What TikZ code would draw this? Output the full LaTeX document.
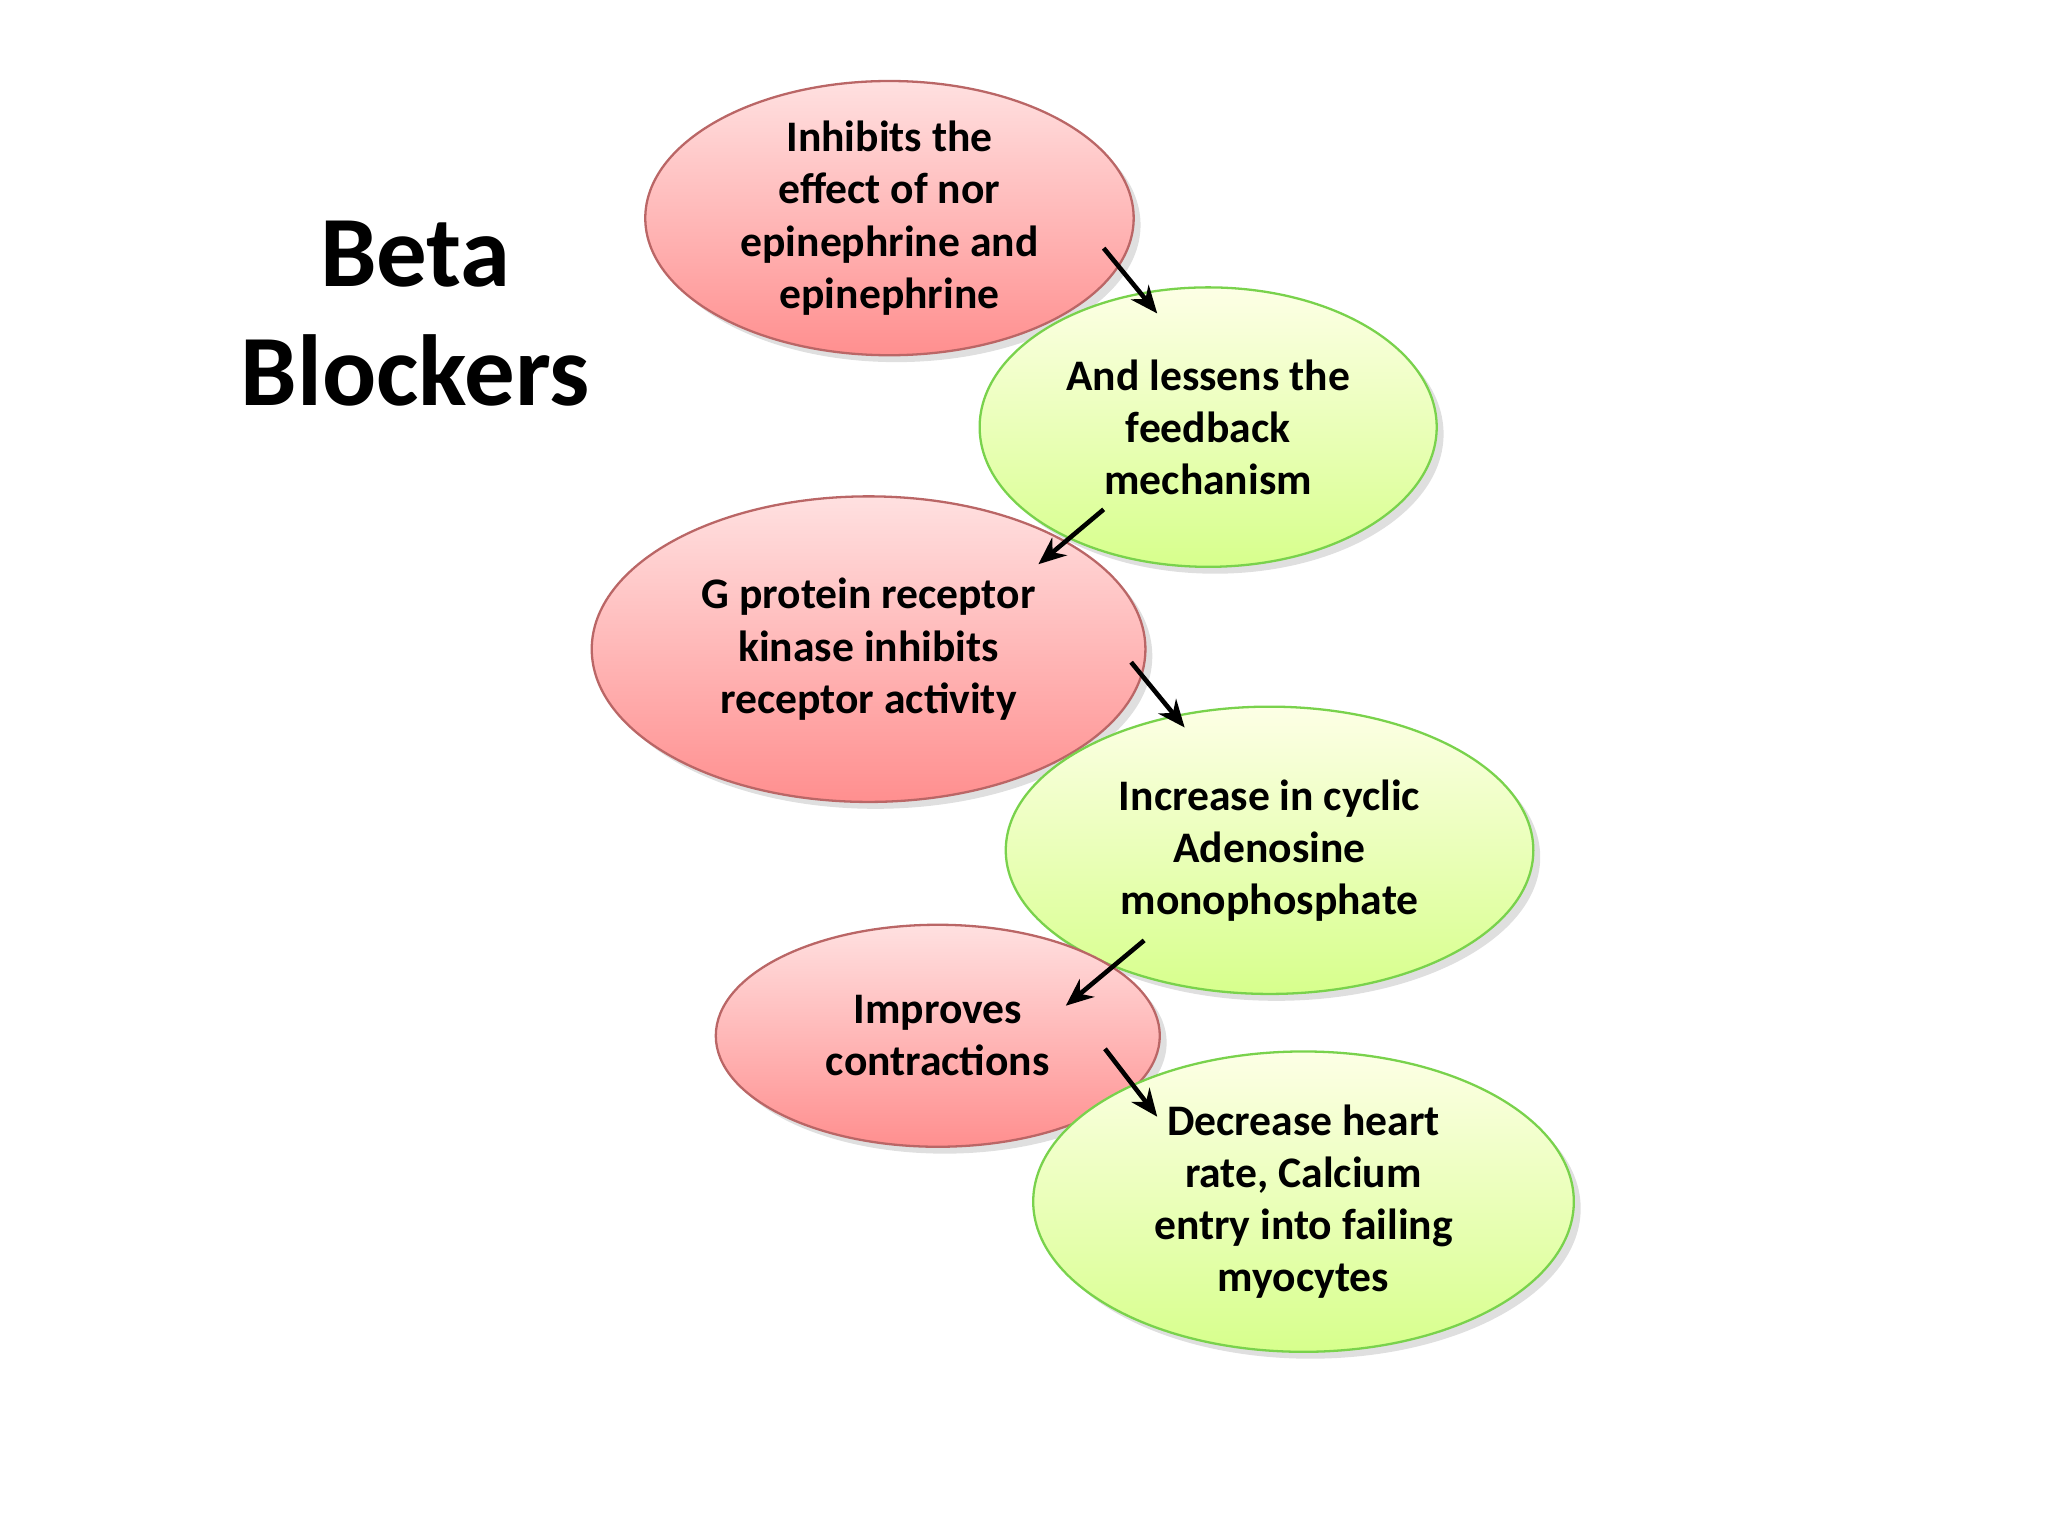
\documentclass[tikz,border=0pt]{standalone}
\usepackage{fontspec}
\setmainfont{Carlito}
\usetikzlibrary{shapes.geometric,arrows.meta,shadows}
\begin{document}
\begin{tikzpicture}[x=0.02cm,y=-0.02cm,
  ell/.style={ellipse,draw,line width=1pt,font=\fontsize{19}{22.7}\selectfont\bfseries,align=center,inner sep=0pt,drop shadow={opacity=0.25,shadow xshift=3pt,shadow yshift=-3pt}},
  redb/.style={ell,draw=red!55!black!60,top color=red!12,bottom color=red!40!pink!80},
  greenb/.style={ell,draw=green!50!olive!70,top color=green!8!yellow!10,bottom color=green!35!yellow!45},
  arr/.style={-{Stealth[length=12pt,width=10pt]},line width=2pt}]
\useasboundingbox (0,0) rectangle (1568,1176);
\node[font=\fontsize{44}{52}\selectfont\bfseries,align=center] (title) at (318,240) {Beta\\Blockers};
\node[redb,minimum width=374\pgflinewidth*0+7.48cm,minimum height=4.2cm] (a) at (681,167) {Inhibits the\\effect of nor\\epinephrine and\\epinephrine};
\node[greenb,minimum width=7cm,minimum height=4.28cm] (b) at (925,327) {And lessens the\\feedback\\mechanism};
\node[redb,minimum width=8.48cm,minimum height=4.68cm] (c) at (665,497) {G protein receptor\\kinase inhibits\\receptor activity};
\node[greenb,minimum width=8.08cm,minimum height=4.4cm] (d) at (972,651) {Increase in cyclic\\Adenosine\\monophosphate};
\node[redb,minimum width=6.8cm,minimum height=3.4cm] (e) at (718,793) {Improves\\contractions};
\node[greenb,minimum width=8.28cm,minimum height=4.6cm] (f) at (998,920) {Decrease heart\\rate, Calcium\\entry into failing\\myocytes};
\coordinate (a1) at (845,190); \coordinate (a2) at (886,240);
\coordinate (b1) at (845,390); \coordinate (b2) at (795,432);
\coordinate (c1) at (866,507); \coordinate (c2) at (907,557);
\coordinate (d1) at (876,720); \coordinate (d2) at (816,770);
\coordinate (e1) at (846,803); \coordinate (e2) at (886,855);
\draw[arr] (a1) -- (a2);
\draw[arr] (b1) -- (b2);
\draw[arr] (c1) -- (c2);
\draw[arr] (d1) -- (d2);
\draw[arr] (e1) -- (e2);
\end{tikzpicture}
\end{document}
